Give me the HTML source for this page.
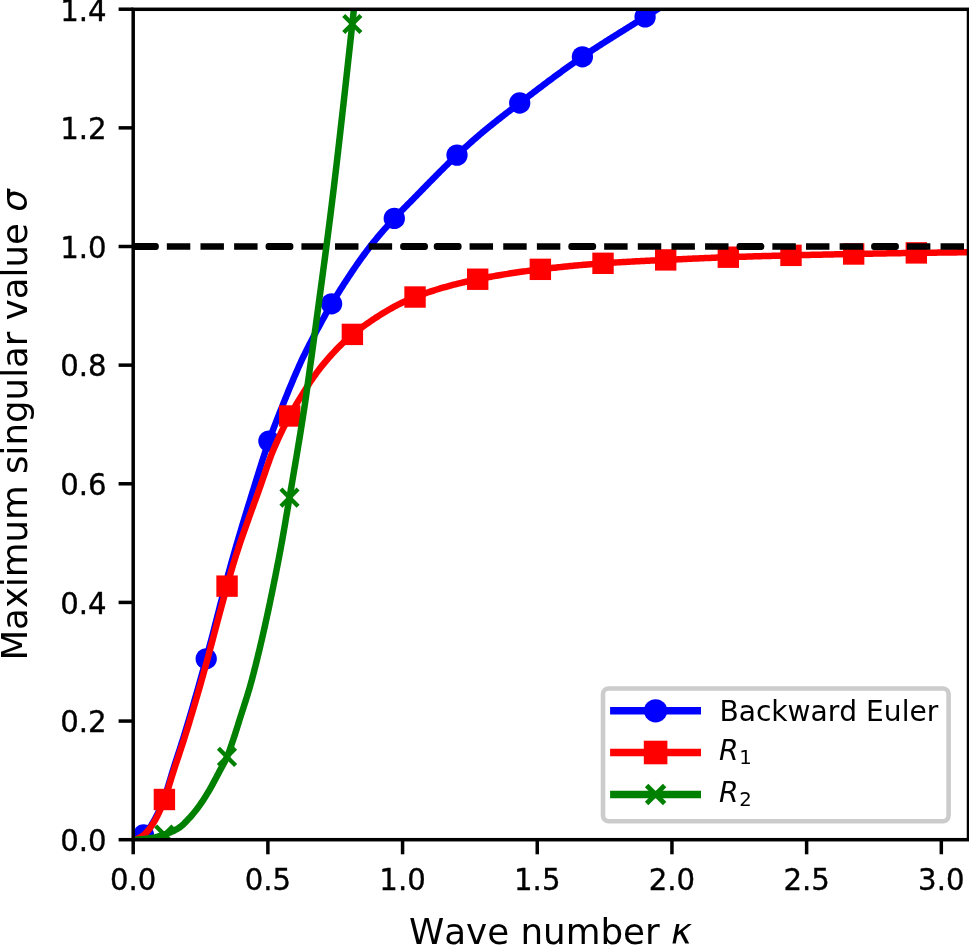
<!DOCTYPE html>
<html lang="en">
<head>
<meta charset="utf-8">
<title>Maximum singular value vs wave number</title>
<style>
html,body{margin:0;padding:0;background:#fff;}
body{width:969px;height:945px;overflow:hidden;}
svg{display:block;}
</style>
</head>
<body>
<svg width="969" height="945" viewBox="0 0 969 945" font-family='"DejaVu Sans", "Liberation Sans", sans-serif' style="font-kerning:none">
<rect width="969" height="945" fill="#fff"/>
<defs><clipPath id="ax"><rect x="133.2" y="9.3" width="835.3" height="830.4000000000001"/></clipPath></defs>
<g clip-path="url(#ax)" fill="none" stroke-linejoin="round">
<path d="M133.20,839.70 L134.27,839.63 L135.33,839.42 L136.40,839.09 L137.46,838.66 L138.53,838.14 L139.59,837.54 L140.66,836.89 L141.73,836.20 L142.79,835.48 L143.86,834.74 L144.92,833.76 L145.99,832.56 L147.05,831.23 L148.12,829.84 L149.19,828.40 L150.25,826.86 L151.32,825.23 L152.38,823.52 L153.45,821.71 L154.51,819.83 L155.58,817.87 L156.65,815.83 L157.71,813.67 L158.78,811.38 L159.84,808.97 L160.91,806.45 L161.97,803.82 L163.04,801.10 L164.11,798.29 L165.17,795.36 L166.24,792.21 L167.30,788.89 L168.37,785.43 L169.43,781.90 L170.50,778.33 L171.57,774.77 L172.63,771.27 L173.70,767.88 L174.76,764.55 L175.83,761.25 L176.89,757.97 L177.96,754.70 L179.03,751.43 L180.09,748.14 L181.16,744.84 L182.22,741.51 L183.29,738.13 L184.36,734.71 L185.42,731.25 L186.49,727.76 L187.55,724.23 L188.62,720.67 L189.68,717.07 L190.75,713.45 L191.82,709.80 L192.88,706.14 L193.95,702.46 L195.01,698.76 L196.08,695.04 L197.14,691.30 L198.21,687.54 L199.28,683.77 L200.34,679.98 L201.41,676.17 L202.47,672.34 L203.54,668.50 L204.60,664.64 L205.67,660.77 L206.74,656.87 L207.80,652.93 L208.87,648.95 L209.93,644.93 L211.00,640.88 L212.06,636.80 L213.13,632.70 L214.20,628.57 L215.26,624.43 L216.33,620.28 L217.39,616.12 L218.46,611.96 L219.52,607.80 L220.59,603.64 L221.66,599.50 L222.72,595.37 L223.79,591.26 L224.85,587.17 L225.92,583.12 L226.98,579.09 L228.05,575.10 L229.12,571.15 L230.18,567.25 L231.25,563.40 L232.31,559.60 L233.38,555.84 L234.44,552.12 L235.51,548.42 L236.58,544.75 L237.64,541.11 L238.71,537.49 L239.77,533.90 L240.84,530.33 L241.90,526.78 L242.97,523.24 L244.04,519.73 L245.10,516.23 L246.17,512.75 L247.23,509.27 L248.30,505.81 L249.36,502.36 L250.43,498.92 L251.50,495.48 L252.56,492.05 L253.63,488.62 L254.69,485.19 L255.76,481.75 L256.82,478.31 L257.89,474.87 L258.96,471.45 L260.02,468.05 L261.09,464.67 L262.15,461.31 L263.22,458.00 L264.28,454.72 L265.35,451.49 L266.42,448.30 L267.48,445.18 L268.55,442.11 L269.61,439.12 L270.68,436.17 L271.75,433.27 L272.81,430.42 L273.88,427.60 L274.94,424.82 L276.01,422.08 L277.07,419.35 L278.14,416.65 L279.21,413.97 L280.27,411.30 L281.34,408.64 L282.40,405.98 L283.47,403.33 L284.53,400.67 L285.60,398.00 L286.67,395.35 L287.73,392.72 L288.80,390.10 L289.86,387.50 L290.93,384.93 L291.99,382.38 L293.06,379.86 L294.13,377.35 L295.19,374.86 L296.26,372.39 L297.32,369.93 L298.39,367.51 L299.45,365.11 L300.52,362.76 L301.59,360.46 L302.65,358.20 L303.72,355.98 L304.78,353.80 L305.85,351.65 L306.91,349.53 L307.98,347.42 L309.05,345.34 L310.11,343.27 L311.18,341.20 L312.24,339.15 L313.31,337.10 L314.37,335.07 L315.44,333.06 L316.51,331.06 L317.57,329.07 L318.64,327.09 L319.70,325.12 L320.77,323.16 L321.83,321.21 L322.90,319.27 L323.97,317.32 L325.03,315.37 L326.10,313.43 L327.16,311.50 L328.23,309.60 L329.29,307.72 L330.36,305.88 L331.43,304.09 L332.49,302.33 L333.56,300.58 L334.62,298.84 L335.69,297.11 L336.75,295.39 L337.82,293.67 L338.89,291.97 L339.95,290.27 L341.02,288.58 L342.08,286.90 L343.15,285.23 L344.21,283.57 L345.28,281.92 L346.35,280.28 L347.41,278.65 L348.48,277.03 L349.54,275.43 L350.61,273.83 L351.67,272.24 L352.74,270.66 L353.81,269.09 L354.87,267.53 L355.94,265.99 L357.00,264.45 L358.07,262.93 L359.14,261.42 L360.20,259.92 L361.27,258.43 L362.33,256.96 L363.40,255.49 L364.46,254.04 L365.53,252.60 L366.60,251.17 L367.66,249.76 L368.73,248.36 L369.79,246.97 L370.86,245.59 L371.92,244.24 L372.99,242.89 L374.06,241.57 L375.12,240.26 L376.19,238.96 L377.25,237.67 L378.32,236.40 L379.38,235.14 L380.45,233.89 L381.52,232.65 L382.58,231.42 L383.65,230.21 L384.71,228.99 L385.78,227.79 L386.84,226.60 L387.91,225.41 L388.98,224.23 L390.04,223.05 L391.11,221.88 L392.17,220.71 L393.24,219.55 L394.30,218.39 L395.37,217.23 L396.44,216.09 L397.50,214.97 L398.57,213.85 L399.63,212.74 L400.70,211.64 L401.76,210.55 L402.83,209.46 L403.90,208.38 L404.96,207.30 L406.03,206.23 L407.09,205.16 L408.16,204.08 L409.22,203.01 L410.29,201.93 L411.36,200.86 L412.42,199.77 L413.49,198.69 L414.55,197.60 L415.62,196.52 L416.68,195.43 L417.75,194.34 L418.82,193.25 L419.88,192.16 L420.95,191.07 L422.01,189.98 L423.08,188.89 L424.14,187.80 L425.21,186.71 L426.28,185.62 L427.34,184.53 L428.41,183.44 L429.47,182.35 L430.54,181.26 L431.60,180.18 L432.67,179.10 L433.74,178.01 L434.80,176.93 L435.87,175.85 L436.93,174.78 L438.00,173.70 L439.06,172.63 L440.13,171.56 L441.20,170.49 L442.26,169.43 L443.33,168.37 L444.39,167.31 L445.46,166.26 L446.53,165.21 L447.59,164.16 L448.66,163.12 L449.72,162.08 L450.79,161.04 L451.85,160.01 L452.92,158.98 L453.99,157.96 L455.05,156.95 L456.12,155.93 L457.18,154.93 L458.25,153.93 L459.31,152.93 L460.38,151.93 L461.45,150.94 L462.51,149.95 L463.58,148.97 L464.64,147.98 L465.71,147.01 L466.77,146.04 L467.84,145.07 L468.91,144.11 L469.97,143.15 L471.04,142.20 L472.10,141.25 L473.17,140.31 L474.23,139.37 L475.30,138.44 L476.37,137.51 L477.43,136.59 L478.50,135.68 L479.56,134.77 L480.63,133.87 L481.69,132.97 L482.76,132.08 L483.83,131.19 L484.89,130.31 L485.96,129.43 L487.02,128.56 L488.09,127.69 L489.15,126.82 L490.22,125.96 L491.29,125.10 L492.35,124.24 L493.42,123.39 L494.48,122.54 L495.55,121.69 L496.61,120.85 L497.68,120.01 L498.75,119.17 L499.81,118.34 L500.88,117.50 L501.94,116.67 L503.01,115.84 L504.07,115.02 L505.14,114.19 L506.21,113.37 L507.27,112.55 L508.34,111.73 L509.40,110.91 L510.47,110.09 L511.53,109.27 L512.60,108.45 L513.67,107.64 L514.73,106.82 L515.80,106.01 L516.86,105.19 L517.93,104.38 L518.99,103.56 L520.06,102.75 L521.13,101.93 L522.19,101.12 L523.26,100.30 L524.32,99.49 L525.39,98.67 L526.45,97.86 L527.52,97.05 L528.59,96.23 L529.65,95.42 L530.72,94.61 L531.78,93.80 L532.85,92.99 L533.92,92.18 L534.98,91.37 L536.05,90.56 L537.11,89.75 L538.18,88.94 L539.24,88.14 L540.31,87.33 L541.38,86.53 L542.44,85.72 L543.51,84.92 L544.57,84.12 L545.64,83.32 L546.70,82.52 L547.77,81.73 L548.84,80.93 L549.90,80.14 L550.97,79.34 L552.03,78.55 L553.10,77.76 L554.16,76.97 L555.23,76.19 L556.30,75.40 L557.36,74.62 L558.43,73.84 L559.49,73.06 L560.56,72.28 L561.62,71.50 L562.69,70.73 L563.76,69.96 L564.82,69.19 L565.89,68.42 L566.95,67.65 L568.02,66.89 L569.08,66.13 L570.15,65.37 L571.22,64.61 L572.28,63.86 L573.35,63.11 L574.41,62.36 L575.48,61.61 L576.54,60.87 L577.61,60.12 L578.68,59.39 L579.74,58.65 L580.81,57.92 L581.87,57.19 L582.94,56.46 L584.00,55.74 L585.07,55.01 L586.14,54.30 L587.20,53.58 L588.27,52.87 L589.33,52.16 L590.40,51.45 L591.46,50.74 L592.53,50.04 L593.60,49.34 L594.66,48.64 L595.73,47.94 L596.79,47.25 L597.86,46.56 L598.92,45.87 L599.99,45.18 L601.06,44.49 L602.12,43.81 L603.19,43.13 L604.25,42.45 L605.32,41.77 L606.38,41.09 L607.45,40.41 L608.52,39.74 L609.58,39.07 L610.65,38.39 L611.71,37.72 L612.78,37.05 L613.84,36.38 L614.91,35.71 L615.98,35.05 L617.04,34.38 L618.11,33.72 L619.17,33.05 L620.24,32.39 L621.31,31.72 L622.37,31.06 L623.44,30.40 L624.50,29.73 L625.57,29.07 L626.63,28.41 L627.70,27.75 L628.77,27.09 L629.83,26.42 L630.90,25.76 L631.96,25.10 L633.03,24.44 L634.09,23.78 L635.16,23.11 L636.23,22.45 L637.29,21.79 L638.36,21.12 L639.42,20.46 L640.49,19.79 L641.55,19.12 L642.62,18.46 L643.69,17.79 L644.75,17.12 L645.82,16.45 L646.88,15.78 L647.95,15.11 L649.01,14.44 L650.08,13.78 L651.15,13.11 L652.21,12.45 L653.28,11.78 L654.34,11.12 L655.41,10.45 L656.47,9.79 L657.54,9.13 L658.61,8.47 L659.67,7.80 L660.74,7.14 L661.80,6.48 L662.87,5.82 L663.93,5.16 L665.00,4.50" stroke="#0000ff" stroke-width="6.5"/>
<circle cx="143.50" cy="835.00" r="10.65" fill="#0000ff"/>
<circle cx="206.20" cy="658.83" r="10.65" fill="#0000ff"/>
<circle cx="268.90" cy="441.12" r="10.65" fill="#0000ff"/>
<circle cx="331.60" cy="303.80" r="10.65" fill="#0000ff"/>
<circle cx="394.30" cy="218.39" r="10.65" fill="#0000ff"/>
<circle cx="457.00" cy="155.10" r="10.65" fill="#0000ff"/>
<circle cx="519.70" cy="103.02" r="10.65" fill="#0000ff"/>
<circle cx="582.40" cy="56.83" r="10.65" fill="#0000ff"/>
<circle cx="645.10" cy="16.90" r="10.65" fill="#0000ff"/>
<path d="M133.20,839.70 L134.89,839.50 L136.57,839.03 L138.26,838.35 L139.95,837.52 L141.63,836.60 L143.32,835.50 L145.01,833.95 L146.70,832.11 L148.38,830.15 L150.07,827.99 L151.76,825.58 L153.44,822.94 L155.13,820.09 L156.82,817.04 L158.50,813.65 L160.19,809.92 L161.88,805.91 L163.57,801.67 L165.25,797.19 L166.94,792.24 L168.63,786.95 L170.31,781.48 L172.00,776.01 L173.69,770.73 L175.37,765.59 L177.06,760.51 L178.75,755.44 L180.44,750.35 L182.12,745.21 L183.81,739.97 L185.50,734.64 L187.18,729.22 L188.87,723.72 L190.56,718.15 L192.24,712.53 L193.93,706.85 L195.62,701.12 L197.31,695.34 L198.99,689.50 L200.68,683.60 L202.37,677.64 L204.05,671.58 L205.74,665.45 L207.43,659.24 L209.11,652.97 L210.80,646.66 L212.49,640.32 L214.17,633.96 L215.86,627.59 L217.55,621.23 L219.24,614.89 L220.92,608.59 L222.61,602.33 L224.30,596.13 L225.98,590.00 L227.67,583.95 L229.36,577.88 L231.04,571.87 L232.73,566.02 L234.42,560.44 L236.11,555.10 L237.79,549.89 L239.48,544.79 L241.17,539.80 L242.85,534.89 L244.54,530.06 L246.23,525.30 L247.91,520.58 L249.60,515.90 L251.29,511.25 L252.98,506.61 L254.66,501.97 L256.35,497.31 L258.04,492.63 L259.72,487.90 L261.41,483.12 L263.10,478.25 L264.78,473.33 L266.47,468.43 L268.16,463.61 L269.84,458.93 L271.53,454.45 L273.22,450.23 L274.91,446.20 L276.59,442.34 L278.28,438.62 L279.97,435.01 L281.65,431.52 L283.34,428.13 L285.03,424.82 L286.71,421.59 L288.40,418.42 L290.09,415.30 L291.78,412.24 L293.46,409.25 L295.15,406.32 L296.84,403.44 L298.52,400.62 L300.21,397.84 L301.90,395.09 L303.58,392.36 L305.27,389.67 L306.96,387.01 L308.65,384.40 L310.33,381.84 L312.02,379.33 L313.71,376.89 L315.39,374.51 L317.08,372.20 L318.77,369.96 L320.45,367.77 L322.14,365.65 L323.83,363.59 L325.52,361.58 L327.20,359.61 L328.89,357.68 L330.58,355.78 L332.26,353.93 L333.95,352.10 L335.64,350.32 L337.32,348.56 L339.01,346.84 L340.70,345.15 L342.38,343.47 L344.07,341.80 L345.76,340.17 L347.45,338.59 L349.13,337.07 L350.82,335.63 L352.51,334.29 L354.19,333.02 L355.88,331.75 L357.57,330.49 L359.25,329.25 L360.94,328.02 L362.63,326.80 L364.32,325.59 L366.00,324.40 L367.69,323.22 L369.38,322.06 L371.06,320.90 L372.75,319.77 L374.44,318.65 L376.12,317.54 L377.81,316.45 L379.50,315.37 L381.19,314.31 L382.87,313.27 L384.56,312.25 L386.25,311.24 L387.93,310.25 L389.62,309.28 L391.31,308.32 L392.99,307.39 L394.68,306.47 L396.37,305.57 L398.05,304.70 L399.74,303.84 L401.43,303.00 L403.12,302.19 L404.80,301.39 L406.49,300.62 L408.18,299.86 L409.86,299.13 L411.55,298.43 L413.24,297.74 L414.92,297.08 L416.61,296.43 L418.30,295.80 L419.99,295.18 L421.67,294.56 L423.36,293.96 L425.05,293.37 L426.73,292.79 L428.42,292.22 L430.11,291.65 L431.79,291.10 L433.48,290.56 L435.17,290.02 L436.86,289.50 L438.54,288.98 L440.23,288.47 L441.92,287.98 L443.60,287.49 L445.29,287.01 L446.98,286.53 L448.66,286.07 L450.35,285.61 L452.04,285.16 L453.73,284.72 L455.41,284.29 L457.10,283.86 L458.79,283.45 L460.47,283.03 L462.16,282.63 L463.85,282.23 L465.53,281.84 L467.22,281.46 L468.91,281.08 L470.59,280.71 L472.28,280.35 L473.97,279.99 L475.66,279.64 L477.34,279.29 L479.03,278.95 L480.72,278.62 L482.40,278.28 L484.09,277.96 L485.78,277.64 L487.46,277.32 L489.15,277.00 L490.84,276.70 L492.53,276.39 L494.21,276.09 L495.90,275.79 L497.59,275.50 L499.27,275.22 L500.96,274.93 L502.65,274.65 L504.33,274.38 L506.02,274.10 L507.71,273.84 L509.40,273.57 L511.08,273.31 L512.77,273.06 L514.46,272.80 L516.14,272.55 L517.83,272.31 L519.52,272.07 L521.20,271.83 L522.89,271.59 L524.58,271.36 L526.26,271.13 L527.95,270.90 L529.64,270.68 L531.33,270.46 L533.01,270.25 L534.70,270.03 L536.39,269.82 L538.07,269.62 L539.76,269.41 L541.45,269.21 L543.13,269.01 L544.82,268.81 L546.51,268.62 L548.20,268.42 L549.88,268.23 L551.57,268.04 L553.26,267.85 L554.94,267.67 L556.63,267.48 L558.32,267.30 L560.00,267.12 L561.69,266.94 L563.38,266.77 L565.07,266.59 L566.75,266.42 L568.44,266.25 L570.13,266.08 L571.81,265.92 L573.50,265.76 L575.19,265.59 L576.87,265.44 L578.56,265.28 L580.25,265.13 L581.94,264.98 L583.62,264.83 L585.31,264.68 L587.00,264.54 L588.68,264.40 L590.37,264.26 L592.06,264.12 L593.74,263.99 L595.43,263.86 L597.12,263.73 L598.80,263.61 L600.49,263.48 L602.18,263.36 L603.87,263.25 L605.55,263.13 L607.24,263.02 L608.93,262.91 L610.61,262.80 L612.30,262.69 L613.99,262.59 L615.67,262.49 L617.36,262.38 L619.05,262.28 L620.74,262.19 L622.42,262.09 L624.11,261.99 L625.80,261.90 L627.48,261.81 L629.17,261.72 L630.86,261.62 L632.54,261.54 L634.23,261.45 L635.92,261.36 L637.61,261.27 L639.29,261.19 L640.98,261.10 L642.67,261.02 L644.35,260.94 L646.04,260.85 L647.73,260.77 L649.41,260.69 L651.10,260.61 L652.79,260.53 L654.47,260.45 L656.16,260.37 L657.85,260.29 L659.54,260.20 L661.22,260.12 L662.91,260.04 L664.60,259.96 L666.28,259.88 L667.97,259.80 L669.66,259.72 L671.34,259.64 L673.03,259.56 L674.72,259.48 L676.41,259.40 L678.09,259.32 L679.78,259.24 L681.47,259.16 L683.15,259.08 L684.84,259.00 L686.53,258.93 L688.21,258.85 L689.90,258.77 L691.59,258.69 L693.28,258.62 L694.96,258.54 L696.65,258.47 L698.34,258.39 L700.02,258.32 L701.71,258.25 L703.40,258.17 L705.08,258.10 L706.77,258.03 L708.46,257.96 L710.15,257.89 L711.83,257.82 L713.52,257.76 L715.21,257.69 L716.89,257.62 L718.58,257.56 L720.27,257.49 L721.95,257.43 L723.64,257.37 L725.33,257.31 L727.01,257.25 L728.70,257.19 L730.39,257.13 L732.08,257.07 L733.76,257.01 L735.45,256.96 L737.14,256.90 L738.82,256.84 L740.51,256.79 L742.20,256.73 L743.88,256.68 L745.57,256.63 L747.26,256.57 L748.95,256.52 L750.63,256.47 L752.32,256.42 L754.01,256.37 L755.69,256.32 L757.38,256.27 L759.07,256.22 L760.75,256.17 L762.44,256.12 L764.13,256.07 L765.82,256.02 L767.50,255.98 L769.19,255.93 L770.88,255.88 L772.56,255.84 L774.25,255.79 L775.94,255.75 L777.62,255.70 L779.31,255.66 L781.00,255.61 L782.68,255.57 L784.37,255.53 L786.06,255.48 L787.75,255.44 L789.43,255.40 L791.12,255.35 L792.81,255.31 L794.49,255.27 L796.18,255.23 L797.87,255.19 L799.55,255.15 L801.24,255.11 L802.93,255.07 L804.62,255.03 L806.30,254.99 L807.99,254.95 L809.68,254.91 L811.36,254.87 L813.05,254.84 L814.74,254.80 L816.42,254.76 L818.11,254.72 L819.80,254.69 L821.49,254.65 L823.17,254.62 L824.86,254.58 L826.55,254.54 L828.23,254.51 L829.92,254.47 L831.61,254.44 L833.29,254.40 L834.98,254.37 L836.67,254.33 L838.36,254.30 L840.04,254.27 L841.73,254.23 L843.42,254.20 L845.10,254.16 L846.79,254.13 L848.48,254.10 L850.16,254.06 L851.85,254.03 L853.54,254.00 L855.22,253.97 L856.91,253.93 L858.60,253.90 L860.29,253.87 L861.97,253.84 L863.66,253.80 L865.35,253.77 L867.03,253.74 L868.72,253.71 L870.41,253.68 L872.09,253.64 L873.78,253.61 L875.47,253.58 L877.16,253.55 L878.84,253.52 L880.53,253.49 L882.22,253.46 L883.90,253.43 L885.59,253.40 L887.28,253.37 L888.96,253.34 L890.65,253.31 L892.34,253.28 L894.03,253.25 L895.71,253.22 L897.40,253.19 L899.09,253.16 L900.77,253.14 L902.46,253.11 L904.15,253.08 L905.83,253.06 L907.52,253.03 L909.21,253.00 L910.89,252.98 L912.58,252.95 L914.27,252.93 L915.96,252.90 L917.64,252.88 L919.33,252.86 L921.02,252.83 L922.70,252.81 L924.39,252.79 L926.08,252.76 L927.76,252.74 L929.45,252.72 L931.14,252.70 L932.83,252.67 L934.51,252.65 L936.20,252.63 L937.89,252.61 L939.57,252.59 L941.26,252.57 L942.95,252.55 L944.63,252.53 L946.32,252.51 L948.01,252.49 L949.70,252.47 L951.38,252.45 L953.07,252.43 L954.76,252.41 L956.44,252.39 L958.13,252.37 L959.82,252.35 L961.50,252.33 L963.19,252.32 L964.88,252.30 L966.57,252.28 L968.25,252.26 L969.94,252.25 L971.63,252.23 L973.31,252.22 L975.00,252.20" stroke="#ff0000" stroke-width="6.5"/>
<rect x="153.70" y="788.80" width="21.40" height="21.40" fill="#ff0000"/>
<rect x="216.36" y="575.44" width="21.40" height="21.40" fill="#ff0000"/>
<rect x="279.02" y="405.28" width="21.40" height="21.40" fill="#ff0000"/>
<rect x="341.68" y="323.69" width="21.40" height="21.40" fill="#ff0000"/>
<rect x="404.34" y="286.33" width="21.40" height="21.40" fill="#ff0000"/>
<rect x="467.00" y="268.52" width="21.40" height="21.40" fill="#ff0000"/>
<rect x="529.66" y="258.64" width="21.40" height="21.40" fill="#ff0000"/>
<rect x="592.32" y="252.61" width="21.40" height="21.40" fill="#ff0000"/>
<rect x="654.98" y="249.21" width="21.40" height="21.40" fill="#ff0000"/>
<rect x="717.64" y="246.50" width="21.40" height="21.40" fill="#ff0000"/>
<rect x="780.30" y="244.66" width="21.40" height="21.40" fill="#ff0000"/>
<rect x="842.96" y="243.30" width="21.40" height="21.40" fill="#ff0000"/>
<rect x="905.62" y="242.20" width="21.40" height="21.40" fill="#ff0000"/>
<path d="M133.2,246.55 L968.5,246.55" stroke="#000" stroke-width="6.5" stroke-dasharray="23.45 10.19"/>
<rect x="131.00" y="243.10" width="27.85" height="6.9" rx="3.2" ry="3.2" fill="#000" stroke="none"/><rect x="265.56" y="243.10" width="27.85" height="6.9" rx="3.2" ry="3.2" fill="#000" stroke="none"/><rect x="400.12" y="243.10" width="27.85" height="6.9" rx="3.2" ry="3.2" fill="#000" stroke="none"/><rect x="433.76" y="243.10" width="27.85" height="6.9" rx="3.2" ry="3.2" fill="#000" stroke="none"/><rect x="568.32" y="243.10" width="27.85" height="6.9" rx="3.2" ry="3.2" fill="#000" stroke="none"/><rect x="736.52" y="243.10" width="27.85" height="6.9" rx="3.2" ry="3.2" fill="#000" stroke="none"/><rect x="871.08" y="243.10" width="27.85" height="6.9" rx="3.2" ry="3.2" fill="#000" stroke="none"/>
<path d="M133.20,839.70 L135.48,839.66 L137.75,839.55 L140.01,839.38 L142.26,839.16 L144.50,838.91 L146.74,838.63 L148.96,838.34 L151.18,838.02 L153.39,837.61 L155.60,837.10 L157.80,836.52 L159.98,835.88 L162.15,835.20 L164.28,834.51 L166.41,833.77 L168.56,832.98 L170.69,832.13 L172.79,831.20 L174.85,830.22 L176.83,829.16 L178.73,828.04 L180.53,826.79 L182.25,825.36 L183.90,823.79 L185.51,822.14 L187.08,820.47 L188.64,818.83 L190.17,817.18 L191.67,815.49 L193.14,813.76 L194.58,812.02 L195.99,810.25 L197.36,808.46 L198.69,806.65 L200.00,804.81 L201.29,802.95 L202.55,801.07 L203.79,799.17 L205.01,797.26 L206.20,795.35 L207.38,793.42 L208.54,791.49 L209.68,789.54 L210.79,787.58 L211.89,785.61 L212.97,783.62 L214.04,781.63 L215.11,779.64 L216.16,777.64 L217.22,775.64 L218.27,773.64 L219.33,771.64 L220.41,769.65 L221.50,767.67 L222.59,765.69 L223.67,763.70 L224.72,761.69 L225.73,759.68 L226.68,757.64 L227.56,755.57 L228.39,753.48 L229.19,751.37 L229.96,749.24 L230.70,747.11 L231.43,744.96 L232.15,742.81 L232.87,740.67 L233.60,738.53 L234.31,736.39 L235.01,734.24 L235.70,732.09 L236.38,729.94 L237.06,727.79 L237.74,725.63 L238.41,723.47 L239.09,721.32 L239.76,719.16 L240.45,717.01 L241.13,714.86 L241.82,712.71 L242.51,710.55 L243.21,708.40 L243.90,706.25 L244.59,704.10 L245.28,701.94 L245.96,699.79 L246.64,697.63 L247.31,695.48 L247.98,693.32 L248.63,691.15 L249.27,688.99 L249.91,686.82 L250.52,684.66 L251.13,682.48 L251.72,680.31 L252.29,678.13 L252.87,675.95 L253.44,673.77 L254.00,671.59 L254.56,669.40 L255.12,667.22 L255.67,665.03 L256.22,662.84 L256.76,660.65 L257.30,658.46 L257.84,656.27 L258.37,654.07 L258.90,651.88 L259.43,649.68 L259.95,647.49 L260.47,645.29 L260.99,643.09 L261.50,640.89 L262.01,638.69 L262.52,636.49 L263.02,634.28 L263.52,632.08 L264.02,629.87 L264.51,627.67 L265.00,625.46 L265.49,623.26 L265.98,621.05 L266.46,618.84 L266.94,616.63 L267.42,614.42 L267.90,612.21 L268.37,610.00 L268.84,607.79 L269.31,605.57 L269.77,603.36 L270.23,601.15 L270.70,598.93 L271.15,596.72 L271.61,594.51 L272.07,592.29 L272.52,590.08 L272.97,587.86 L273.42,585.65 L273.87,583.43 L274.31,581.21 L274.76,579.00 L275.20,576.78 L275.64,574.57 L276.08,572.35 L276.52,570.14 L276.95,567.92 L277.39,565.70 L277.82,563.49 L278.25,561.27 L278.68,559.06 L279.11,556.84 L279.53,554.62 L279.95,552.41 L280.37,550.19 L280.78,547.97 L281.18,545.75 L281.59,543.52 L281.99,541.30 L282.39,539.08 L282.78,536.85 L283.18,534.63 L283.57,532.41 L283.96,530.18 L284.34,527.95 L284.73,525.73 L285.11,523.50 L285.49,521.28 L285.87,519.05 L286.25,516.82 L286.63,514.59 L287.01,512.37 L287.39,510.14 L287.77,507.91 L288.14,505.69 L288.52,503.46 L288.90,501.23 L289.28,499.01 L289.66,496.78 L290.04,494.55 L290.42,492.33 L290.80,490.10 L291.18,487.87 L291.56,485.65 L291.93,483.42 L292.31,481.19 L292.69,478.97 L293.07,476.74 L293.45,474.52 L293.83,472.29 L294.21,470.06 L294.58,467.83 L294.96,465.61 L295.34,463.38 L295.71,461.15 L296.09,458.93 L296.46,456.70 L296.83,454.47 L297.20,452.24 L297.58,450.01 L297.95,447.79 L298.31,445.56 L298.68,443.33 L299.05,441.10 L299.41,438.87 L299.78,436.64 L300.14,434.41 L300.50,432.18 L300.86,429.95 L301.22,427.72 L301.57,425.49 L301.93,423.26 L302.28,421.03 L302.63,418.80 L302.98,416.57 L303.32,414.34 L303.67,412.11 L304.01,409.87 L304.35,407.64 L304.69,405.41 L305.03,403.18 L305.36,400.94 L305.69,398.71 L306.01,396.47 L306.33,394.24 L306.65,392.00 L306.96,389.77 L307.26,387.53 L307.57,385.29 L307.88,383.05 L308.19,380.81 L308.50,378.58 L308.81,376.34 L309.12,374.10 L309.43,371.87 L309.74,369.63 L310.05,367.39 L310.36,365.16 L310.67,362.92 L310.97,360.68 L311.28,358.44 L311.59,356.21 L311.90,353.97 L312.20,351.73 L312.51,349.49 L312.81,347.26 L313.12,345.02 L313.42,342.78 L313.73,340.54 L314.03,338.30 L314.33,336.07 L314.64,333.83 L314.94,331.59 L315.24,329.35 L315.55,327.11 L315.85,324.88 L316.15,322.64 L316.46,320.40 L316.76,318.16 L317.07,315.92 L317.37,313.69 L317.67,311.45 L317.98,309.21 L318.28,306.97 L318.59,304.73 L318.89,302.50 L319.19,300.26 L319.50,298.02 L319.80,295.78 L320.10,293.54 L320.41,291.30 L320.71,289.07 L321.01,286.83 L321.31,284.59 L321.61,282.35 L321.92,280.11 L322.22,277.87 L322.52,275.64 L322.82,273.40 L323.12,271.16 L323.42,268.92 L323.72,266.68 L324.01,264.44 L324.31,262.20 L324.61,259.97 L324.91,257.73 L325.20,255.49 L325.50,253.25 L325.79,251.01 L326.09,248.77 L326.38,246.53 L326.68,244.29 L326.97,242.05 L327.26,239.81 L327.55,237.57 L327.84,235.33 L328.13,233.09 L328.42,230.85 L328.71,228.61 L328.99,226.37 L329.28,224.13 L329.57,221.89 L329.85,219.65 L330.13,217.41 L330.42,215.17 L330.70,212.93 L330.98,210.69 L331.26,208.45 L331.53,206.21 L331.81,203.97 L332.09,201.73 L332.36,199.48 L332.64,197.24 L332.91,195.00 L333.18,192.76 L333.45,190.52 L333.73,188.28 L334.00,186.03 L334.26,183.79 L334.53,181.55 L334.80,179.31 L335.07,177.07 L335.33,174.82 L335.60,172.58 L335.87,170.34 L336.13,168.09 L336.39,165.85 L336.66,163.61 L336.92,161.37 L337.18,159.12 L337.44,156.88 L337.70,154.64 L337.96,152.39 L338.22,150.15 L338.48,147.91 L338.74,145.66 L339.00,143.42 L339.25,141.17 L339.51,138.93 L339.77,136.69 L340.02,134.44 L340.28,132.20 L340.53,129.95 L340.79,127.71 L341.04,125.47 L341.30,123.22 L341.55,120.98 L341.80,118.73 L342.06,116.49 L342.31,114.24 L342.56,112.00 L342.81,109.76 L343.06,107.51 L343.31,105.27 L343.56,103.02 L343.81,100.78 L344.06,98.53 L344.31,96.29 L344.56,94.04 L344.81,91.80 L345.06,89.55 L345.31,87.31 L345.56,85.06 L345.81,82.82 L346.06,80.57 L346.30,78.33 L346.55,76.08 L346.80,73.84 L347.05,71.59 L347.30,69.35 L347.54,67.10 L347.79,64.86 L348.04,62.61 L348.29,60.37 L348.53,58.12 L348.78,55.88 L349.03,53.63 L349.28,51.39 L349.52,49.14 L349.77,46.90 L350.02,44.65 L350.27,42.41 L350.51,40.17 L350.76,37.92 L351.01,35.68 L351.26,33.43 L351.51,31.19 L351.75,28.94 L352.00,26.70 L352.25,24.45 L352.50,22.21 L352.75,19.96 L352.99,17.72 L353.24,15.47 L353.48,13.23 L353.73,10.98 L353.97,8.74 L354.21,6.49 L354.46,4.25 L354.70,2.00" stroke="#008000" stroke-width="6.5"/>
<path d="M155.70,825.90 L172.90,843.10 M155.70,843.10 L172.90,825.90" stroke="#008000" stroke-width="4.3" fill="none" stroke-linecap="butt"/>
<path d="M218.40,748.30 L235.60,765.50 M218.40,765.50 L235.60,748.30" stroke="#008000" stroke-width="4.3" fill="none" stroke-linecap="butt"/>
<path d="M280.90,489.10 L298.10,506.30 M280.90,506.30 L298.10,489.10" stroke="#008000" stroke-width="4.3" fill="none" stroke-linecap="butt"/>
<path d="M343.70,15.40 L360.90,32.60 M343.70,32.60 L360.90,15.40" stroke="#008000" stroke-width="4.3" fill="none" stroke-linecap="butt"/>
</g>
<rect x="133.2" y="9.3" width="835.3" height="830.4000000000001" fill="none" stroke="#000" stroke-width="3.5"/>
<g stroke="#000" stroke-width="3.5">
<line x1="133.20" y1="839.7" x2="133.20" y2="854.3000000000001"/>
<line x1="267.88" y1="839.7" x2="267.88" y2="854.3000000000001"/>
<line x1="402.57" y1="839.7" x2="402.57" y2="854.3000000000001"/>
<line x1="537.25" y1="839.7" x2="537.25" y2="854.3000000000001"/>
<line x1="671.94" y1="839.7" x2="671.94" y2="854.3000000000001"/>
<line x1="806.62" y1="839.7" x2="806.62" y2="854.3000000000001"/>
<line x1="941.31" y1="839.7" x2="941.31" y2="854.3000000000001"/>
<line x1="133.2" y1="839.70" x2="118.6" y2="839.70"/>
<line x1="133.2" y1="721.06" x2="118.6" y2="721.06"/>
<line x1="133.2" y1="602.42" x2="118.6" y2="602.42"/>
<line x1="133.2" y1="483.78" x2="118.6" y2="483.78"/>
<line x1="133.2" y1="365.14" x2="118.6" y2="365.14"/>
<line x1="133.2" y1="246.50" x2="118.6" y2="246.50"/>
<line x1="133.2" y1="127.86" x2="118.6" y2="127.86"/>
<line x1="133.2" y1="9.22" x2="118.6" y2="9.22"/>
</g>
<g font-size="29.2" fill="#000" stroke="#000" stroke-width="0.35">
<text transform="translate(133.20,889.7) scale(1,1.035)" text-anchor="middle">0.0</text>
<text transform="translate(267.88,889.7) scale(1,1.035)" text-anchor="middle">0.5</text>
<text transform="translate(402.57,889.7) scale(1,1.035)" text-anchor="middle">1.0</text>
<text transform="translate(537.25,889.7) scale(1,1.035)" text-anchor="middle">1.5</text>
<text transform="translate(671.94,889.7) scale(1,1.035)" text-anchor="middle">2.0</text>
<text transform="translate(806.62,889.7) scale(1,1.035)" text-anchor="middle">2.5</text>
<text transform="translate(941.31,889.7) scale(1,1.035)" text-anchor="middle">3.0</text>
<text transform="translate(106.7,851.00) scale(1,1.035)" text-anchor="end">0.0</text>
<text transform="translate(106.7,732.36) scale(1,1.035)" text-anchor="end">0.2</text>
<text transform="translate(106.7,613.72) scale(1,1.035)" text-anchor="end">0.4</text>
<text transform="translate(106.7,495.08) scale(1,1.035)" text-anchor="end">0.6</text>
<text transform="translate(106.7,376.44) scale(1,1.035)" text-anchor="end">0.8</text>
<text transform="translate(106.7,257.80) scale(1,1.035)" text-anchor="end">1.0</text>
<text transform="translate(106.7,139.16) scale(1,1.035)" text-anchor="end">1.2</text>
<text transform="translate(106.7,20.52) scale(1,1.035)" text-anchor="end">1.4</text>
</g>
<text x="550.5" y="944.2" font-size="35.7" text-anchor="middle">Wave number <tspan font-style="oblique">κ</tspan></text>
<text transform="translate(27.4,424.9) rotate(-90)" font-size="35.6" text-anchor="middle">Maximum singular value <tspan font-style="oblique">σ</tspan></text>
<rect x="603.0" y="688.5" width="345.6" height="132.70000000000005" rx="5.7" ry="5.7" fill="#fff" fill-opacity="0.8" stroke="#cccccc" stroke-width="4.6"/>
<g stroke-width="7.4" fill="none">
<line x1="610.1" y1="710.8" x2="701.0" y2="710.8" stroke="#0000ff"/>
<line x1="610.1" y1="752.5" x2="701.0" y2="752.5" stroke="#ff0000"/>
<line x1="610.1" y1="794.5" x2="701.0" y2="794.5" stroke="#008000"/>
</g>
<circle cx="655.60" cy="710.80" r="11.65" fill="#0000ff"/>
<rect x="643.80" y="740.70" width="23.60" height="23.60" fill="#ff0000"/>
<path d="M646.60,785.50 L664.60,803.50 M646.60,803.50 L664.60,785.50" stroke="#008000" stroke-width="4.8" fill="none" stroke-linecap="butt"/>
<g font-size="28.1" fill="#000">
<text x="719.4" y="720.7">Backward Euler</text>
<text x="719.0" y="759.7"><tspan font-style="oblique">R</tspan><tspan font-size="19.67" dx="0.8" dy="4.5">1</tspan></text>
<text x="719.0" y="802.0"><tspan font-style="oblique">R</tspan><tspan font-size="19.67" dx="0.8" dy="4.2">2</tspan></text>
</g>
</svg>
</body>
</html>
